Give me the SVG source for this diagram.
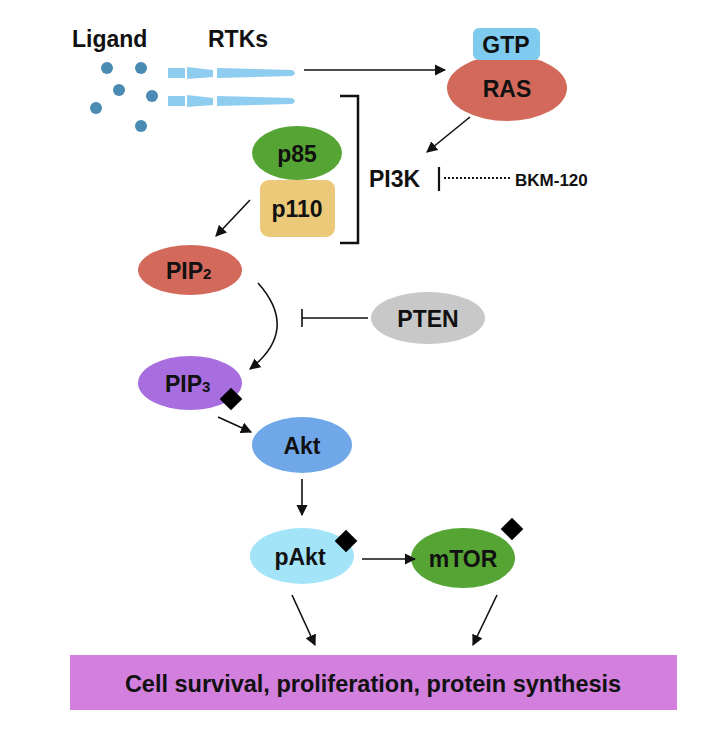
<svg xmlns="http://www.w3.org/2000/svg" width="728" height="738" viewBox="0 0 728 738">
<style>
text{font-family:"Liberation Sans",Arial,sans-serif;font-weight:bold;fill:#111}
.l{font-size:23px}
.a{stroke:#111;stroke-width:1.6;fill:none;marker-end:url(#ah)}
.dot{fill:#4a8bb3}
.bar{fill:#8fcdf0}
</style>
<defs>
<marker id="ah" viewBox="0 0 10 10" refX="9" refY="5" markerWidth="7" markerHeight="7" orient="auto"><path d="M0,0L10,5L0,10z" fill="#111"/></marker>
</defs>
<rect width="728" height="738" fill="#fff"/>
<g id="ligand">
<text x="72" y="47" class="l">Ligand</text>
<circle class="dot" cx="107" cy="68" r="6"/><circle class="dot" cx="141" cy="68" r="6"/>
<circle class="dot" cx="119" cy="90" r="6"/><circle class="dot" cx="152" cy="96" r="6"/>
<circle class="dot" cx="96" cy="108" r="6"/><circle class="dot" cx="141" cy="126" r="6"/>
</g>
<g id="rtks">
<text x="208" y="47" class="l">RTKs</text>
<g class="bar">
<rect x="168" y="68" width="17" height="10"/><path d="M187,67 L213,70 L213,77 L187,79z"/><path d="M217,68 L292,70 Q298,73 292,76 L217,78z"/>
<rect x="168" y="96" width="17" height="10"/><path d="M187,95 L213,98 L213,105 L187,107z"/><path d="M217,96 L292,98 Q298,101 292,104 L217,106z"/>
</g>
</g>
<g id="ras">
<ellipse cx="507" cy="88" rx="60" ry="33" fill="#d2695a"/>
<rect x="473" y="28" width="67" height="32" rx="6" fill="#7ecbef"/>
<text x="506" y="53" class="l" text-anchor="middle">GTP</text>
<text x="507" y="97" class="l" text-anchor="middle">RAS</text>
</g>
<g id="pi3k">
<path d="M340,96 H358 V243 H340" stroke="#111" stroke-width="2.5" fill="none"/>
<ellipse cx="297" cy="153" rx="45" ry="27" fill="#56a534"/>
<text x="297" y="162" class="l" text-anchor="middle">p85</text>
<rect x="260" y="180" width="75" height="57" rx="9" fill="#ecc979"/>
<text x="297" y="217" class="l" text-anchor="middle">p110</text>
<text x="369" y="187" class="l">PI3K</text>
</g>
<g id="bkm">
<text x="515" y="186" font-size="17">BKM-120</text>
</g>
<g id="pip2">
<ellipse cx="190" cy="270" rx="52" ry="25" fill="#d2695a"/>
<text x="166" y="279" class="l">PIP<tspan font-size="15">2</tspan></text>
</g>
<g id="pten">
<ellipse cx="428" cy="318" rx="57" ry="26" fill="#c8c8c8"/>
<text x="428" y="327" class="l" text-anchor="middle">PTEN</text>
</g>
<g id="pip3">
<ellipse cx="190" cy="383" rx="52" ry="27" fill="#a86ee0"/>
<text x="165" y="392" class="l">PIP<tspan font-size="15">3</tspan></text>
<rect x="223" y="391" width="16" height="16" transform="rotate(45 231 399)" fill="#000"/>
</g>
<g id="akt">
<ellipse cx="302" cy="445" rx="50" ry="28" fill="#6fa7e8"/>
<text x="302" y="454" class="l" text-anchor="middle">Akt</text>
</g>
<g id="pakt">
<ellipse cx="302" cy="556" rx="52" ry="28" fill="#a4e4f8"/>
<text x="300" y="565" class="l" text-anchor="middle">pAkt</text>
<rect x="338" y="533" width="16" height="16" transform="rotate(45 346 541)" fill="#000"/>
</g>
<g id="mtor">
<ellipse cx="463" cy="558" rx="52" ry="30" fill="#56a534"/>
<text x="463" y="567" class="l" text-anchor="middle">mTOR</text>
<rect x="504" y="521" width="16" height="16" transform="rotate(45 512 529)" fill="#000"/>
</g>
<g id="outcome">
<rect x="70" y="655" width="607" height="55" fill="#d27fdd"/>
<text x="373" y="692" font-size="23.5" text-anchor="middle">Cell survival, proliferation, protein synthesis</text>
</g>
<g id="connectors">
<path class="a" d="M304,70 H445"/>
<path class="a" d="M470,117 L427,152"/>
<path d="M439,167 V191" stroke="#111" stroke-width="2.2"/>
<path d="M444,178 H511" stroke="#111" stroke-width="2" stroke-dasharray="2,2"/>
<path class="a" d="M250,200 L216,236"/>
<path class="a" d="M258,283 Q300,330 250,369"/>
<path d="M368,318 H302 M302,309 V327" stroke="#111" stroke-width="1.6" fill="none"/>
<path class="a" d="M218,417 L251,432"/>
<path class="a" d="M302,479 V515"/>
<path class="a" d="M362,559 H415"/>
<path class="a" d="M292,595 L315,645"/>
<path class="a" d="M497,595 L473,645"/>
</g>
</svg>
